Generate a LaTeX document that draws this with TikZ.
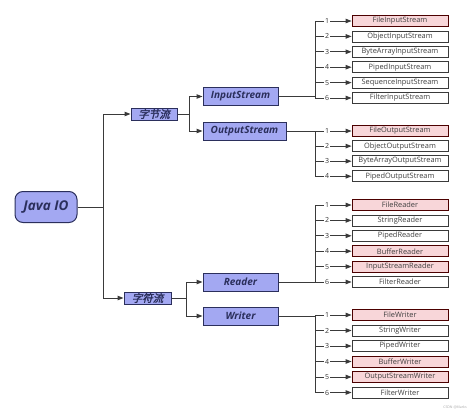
\documentclass[tikz,border=0pt]{standalone}
\usepackage{fontspec}
\setmainfont{Open Sans}
\newfontfamily\cjk[FakeSlant=0.25,FakeBold=2]{Noto Sans CJK SC}
\usetikzlibrary{arrows.meta}
\definecolor{lav}{HTML}{A3A8F2}
\definecolor{navy}{HTML}{2B2F5C}
\definecolor{pinkf}{HTML}{F8D6D9}
\definecolor{ln}{HTML}{3A3A3A}
\begin{document}
\begin{tikzpicture}[x=1pt,y=-1pt,
  root/.style={draw=navy,line width=1pt,fill=lav,rounded corners=8pt,minimum width=62pt,minimum height=31pt,font=\fontsize{13.5}{13.5}\selectfont\bfseries\itshape,text=navy,inner sep=0pt},
  cat/.style={draw=navy,line width=1pt,fill=lav,minimum width=46pt,minimum height=12pt,inner sep=0pt,font=\cjk\fontsize{10.5}{10.5}\selectfont,text=navy},
  cls/.style={draw=navy,line width=1pt,fill=lav,minimum height=18pt,inner sep=0pt,font=\fontsize{10}{10}\selectfont\bfseries\itshape,text=navy},
  leaf/.style={draw=ln,line width=0.8pt,fill=white,minimum width=96pt,minimum height=11pt,inner sep=0pt,font=\fontsize{7.4}{7.4}\selectfont,text=black!75},
  hl/.style={leaf,fill=pinkf,draw=black!70!red},
  num/.style={font=\fontsize{7}{7}\selectfont,inner sep=0.8pt,fill=white,text=black!80},
  conn/.style={draw=ln,line width=1pt},
  arr/.style={conn,-{Triangle[length=6pt,width=4.5pt]}}
]
\useasboundingbox (0,0) rectangle (474,413);

\node[root] (java) at (46,207) {Java IO};
\node[cat] (byte) at (154,114) {字节流};
\node[cat,minimum width=47pt] (char) at (147.5,298) {字符流};
\node[cls,minimum width=75pt] (is) at (240.5,96.5) {InputStream};
\node[cls,minimum width=83pt] (os) at (244.5,131) {OutputStream};
\node[cls,minimum width=75pt] (rd) at (240.5,282) {Reader};
\node[cls,minimum width=75pt] (wr) at (240.5,316) {Writer};

\coordinate (t0) at (103,207);
\coordinate (tb) at (103,114);
\coordinate (tc) at (103,298);
\draw[conn] (java.east) -- (t0);
\draw[conn] (tb) -- (tc);
\draw[arr] (tb) -- (byte.west);
\draw[arr] (tc) -- (char.west);

\coordinate (b1) at (189,96.5);
\coordinate (b2) at (189,131);
\draw[conn] (byte.east) -- (189,114);
\draw[conn] (b1) -- (b2);
\draw[arr] (b1) -- (is.west);
\draw[arr] (b2) -- (os.west);

\coordinate (c1) at (186,282);
\coordinate (c2) at (186,316);
\draw[conn] (char.east) -- (186,298);
\draw[conn] (c1) -- (c2);
\draw[arr] (c1) -- (rd.west);
\draw[arr] (c2) -- (wr.west);

% InputStream children
\foreach \i/\t/\s [count=\k from 0] in {1/FileInputStream/hl,2/ObjectInputStream/leaf,3/ByteArrayInputStream/leaf,4/PipedInputStream/leaf,5/SequenceInputStream/leaf,6/FilterInputStream/leaf}{
  \node[\s] (isc\i) at (400,21+15.4*\k) {\t};
  \coordinate (isv\i) at (315,21+15.4*\k);
  \node[num] (isn\i) at (327,21+15.4*\k) {\i};
  \draw[conn] (isv\i) -- (isn\i.west);
  \draw[arr] (isn\i.east) -- (isc\i.west);
}
\draw[conn] (isv1) -- (isv6);
\draw[conn] (is.east) -- (is.east -| isv6);

% OutputStream children
\foreach \i/\t/\s [count=\k from 0] in {1/FileOutputStream/hl,2/ObjectOutputStream/leaf,3/ByteArrayOutputStream/leaf,4/PipedOutputStream/leaf}{
  \node[\s] (osc\i) at (400,131+15.1*\k) {\t};
  \coordinate (osv\i) at (315,131+15.1*\k);
  \node[num] (osn\i) at (327,131+15.1*\k) {\i};
  \draw[conn] (osv\i) -- (osn\i.west);
  \draw[arr] (osn\i.east) -- (osc\i.west);
}
\draw[conn] (osv1) -- (osv4);
\draw[conn] (os.east) -- (os.east -| osv1);

% Reader children
\foreach \i/\t/\s [count=\k from 0] in {1/FileReader/hl,2/StringReader/leaf,3/PipedReader/leaf,4/BufferReader/hl,5/InputStreamReader/hl,6/FilterReader/leaf}{
  \node[\s] (rdc\i) at (400,205+15.4*\k) {\t};
  \coordinate (rdv\i) at (315,205+15.4*\k);
  \node[num] (rdn\i) at (327,205+15.4*\k) {\i};
  \draw[conn] (rdv\i) -- (rdn\i.west);
  \draw[arr] (rdn\i.east) -- (rdc\i.west);
}
\draw[conn] (rdv1) -- (rdv6);
\draw[conn] (rd.east) -- (rd.east -| rdv6);

% Writer children
\foreach \i/\t/\s [count=\k from 0] in {1/FileWriter/hl,2/StringWriter/leaf,3/PipedWriter/leaf,4/BufferWriter/hl,5/OutputStreamWriter/hl,6/FilterWriter/leaf}{
  \node[\s] (wrc\i) at (400,315+15.5*\k) {\t};
  \coordinate (wrv\i) at (315,315+15.5*\k);
  \node[num] (wrn\i) at (327,315+15.5*\k) {\i};
  \draw[conn] (wrv\i) -- (wrn\i.west);
  \draw[arr] (wrn\i.east) -- (wrc\i.west);
}
\draw[conn] (wrv1) -- (wrv6);
\draw[conn] (wr.east) -- (wr.east -| wrv1);

\node[font=\fontsize{3.5}{3.5}\selectfont,text=black!35,inner sep=0pt] (wm) at (455,407) {CSDN @Marks};
\end{tikzpicture}
\end{document}
